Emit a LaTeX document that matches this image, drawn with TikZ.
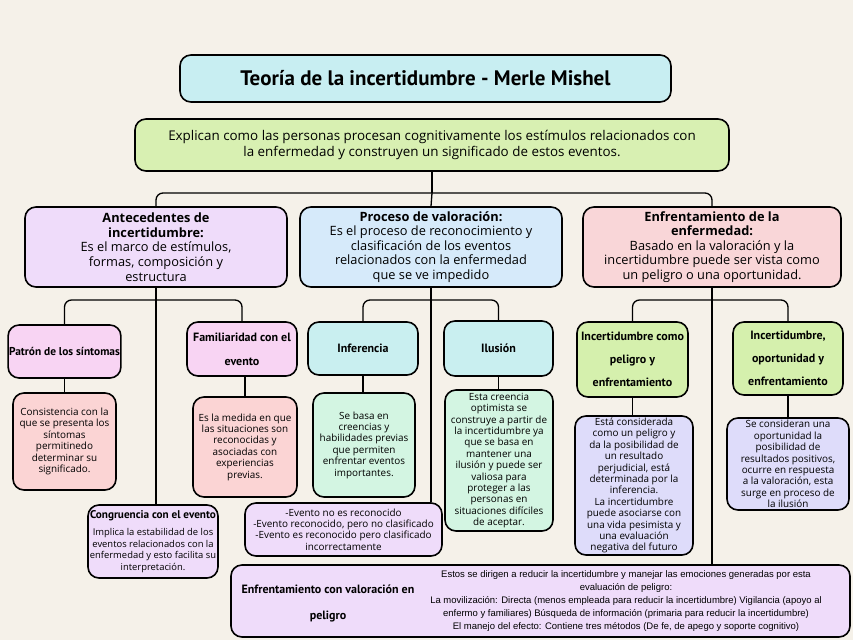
\documentclass[tikz,border=0pt]{standalone}
\usepackage{fontspec}
\setmainfont{Open Sans}
\newfontfamily\hand{PT Sans}
\newfontfamily\narrowf{Liberation Sans}
\definecolor{bgc}{HTML}{F5F1E9}
\definecolor{cyanT}{HTML}{C8EEF2}
\definecolor{greenA}{HTML}{D8F0B2}
\definecolor{lavA}{HTML}{EFDCFA}
\definecolor{blueA}{HTML}{D6EAFA}
\definecolor{pinkA}{HTML}{F9D6D8}
\definecolor{pinklav}{HTML}{F8D4F3}
\definecolor{pinkB}{HTML}{FBD4D4}
\definecolor{cyanB}{HTML}{C9EFF0}
\definecolor{mint}{HTML}{D3F5E2}
\definecolor{greenB}{HTML}{D5F0AD}
\definecolor{lavblue}{HTML}{DEDCFA}
\tikzset{
  box/.style={draw=black, line width=1.6pt, rounded corners=11pt, align=center, inner sep=1pt},
  conn/.style={draw=black, line width=1.3pt, rounded corners=7pt},
  midtxt/.style={font=\fontsize{12.8}{14.6}\selectfont},
  smalltxt/.style={font=\fontsize{9.9}{11.4}\selectfont},
  handtxt/.style={font=\hand\bfseries\fontsize{12}{13}\selectfont},
}
\begin{document}
\begin{tikzpicture}[x=1pt,y=-1pt]
\useasboundingbox (0,0) rectangle (853,640);
\fill[bgc] (0,0) rectangle (853,640);

% level 0/1
\node[box, fill=cyanT, minimum width=491, minimum height=47, font=\hand\bfseries\fontsize{21}{24}\selectfont] (title) at (425.5,78.5) {Teoría de la incertidumbre - Merle Mishel};
\node[box, fill=greenA, minimum width=594, minimum height=52, font=\fontsize{13.4}{16}\selectfont] (main) at (432,145) {Explican como las personas procesan cognitivamente los estímulos relacionados con\\la enfermedad y construyen un significado de estos eventos.};

% level 2
\node[box, fill=lavA, minimum width=262, minimum height=80, midtxt] (ante) at (156,247) {\textbf{Antecedentes de}\\\textbf{incertidumbre:}\\Es el marco de estímulos,\\formas, composición y\\estructura};
\node[box, fill=blueA, minimum width=262, minimum height=80, midtxt] (proc) at (431,247) {\textbf{Proceso de valoración:}\\Es el proceso de reconocimiento y\\clasificación de los eventos\\relacionados con la enfermedad\\que se ve impedido};
\node[box, fill=pinkA, minimum width=258, minimum height=80, midtxt] (enf) at (712,247) {\textbf{Enfrentamiento de la}\\\textbf{enfermedad:}\\Basado en la valoración y la\\incertidumbre puede ser vista como\\un peligro o una oportunidad.};

% level 3 left
\node[box, fill=pinklav, minimum width=111, minimum height=53, font=\hand\bfseries\fontsize{11.4}{13}\selectfont] (patron) at (64.5,351.5) {Patrón de los síntomas};
\node[box, fill=pinkB, minimum width=103, minimum height=97, smalltxt] (consist) at (64.5,441.5) {Consistencia con la\\que se presenta los\\síntomas\\permitinedo\\determinar su\\significado.};
\node[box, fill=pinklav, minimum width=110, minimum height=54, font=\hand\bfseries\fontsize{12}{24}\selectfont] (famil) at (242,349) {Familiaridad con el\\evento};
\node[box, fill=pinkB, minimum width=104, minimum height=100, smalltxt] (medida) at (245,447) {Es la medida en que\\las situaciones son\\reconocidas y\\asociadas con\\experiencias\\previas.};
\node[box, fill=lavA, minimum width=130, minimum height=73, font=\fontsize{9.4}{11.4}\selectfont] (congr) at (153,541.5) {{\hand\bfseries\fontsize{11.2}{13}\selectfont Congruencia con el evento}\\[6pt]Implica la estabilidad de los\\eventos relacionados con la\\enfermedad y esto facilita su\\interpretación.};

% level 3 middle
\node[box, fill=cyanB, minimum width=110, minimum height=53, handtxt] (infer) at (363,348.5) {Inferencia};
\node[box, fill=mint, minimum width=102, minimum height=104, smalltxt] (sebasa) at (364,445) {Se basa en\\creencias y\\habilidades previas\\que permiten\\enfrentar eventos\\importantes.};
\node[box, fill=cyanB, minimum width=109, minimum height=55, handtxt] (ilus) at (498.5,348.5) {Ilusión};
\node[box, fill=mint, minimum width=108, minimum height=141, smalltxt] (creencia) at (499,460.5) {Esta creencia\\optimista se\\construye a partir de\\la incertidumbre ya\\que se basa en\\mantener una\\ilusión y puede ser\\valiosa para\\proteger a las\\personas en\\situaciones difíciles\\de aceptar.};
\node[box, fill=lavA, minimum width=197, minimum height=53, smalltxt] (evento) at (343.5,529.5) {-Evento no es reconocido\\-Evento reconocido, pero no clasificado\\-Evento es reconocido pero clasificado\\incorrectamente};

% level 3 right
\node[box, fill=greenB, minimum width=111, minimum height=75, font=\hand\bfseries\fontsize{12}{23}\selectfont] (peligro) at (632.5,359.5) {Incertidumbre como\\peligro y\\enfrentamiento};
\node[box, fill=lavblue, minimum width=118, minimum height=139, smalltxt] (consid) at (634,485.5) {Está considerada\\como un peligro y\\da la posibilidad de\\un resultado\\perjudicial, está\\determinada por la\\inferencia.\\La incertidumbre\\puede asociarse con\\una vida pesimista y\\una evaluación\\negativa del futuro};
\node[box, fill=greenB, minimum width=110, minimum height=73, font=\hand\bfseries\fontsize{12}{23}\selectfont] (oport) at (788,358.5) {Incertidumbre,\\oportunidad y\\enfrentamiento};
\node[box, fill=lavblue, minimum width=122, minimum height=92, smalltxt] (seconsid) at (788,464) {Se consideran una\\oportunidad la\\posibilidad de\\resultados positivos,\\ocurre en respuesta\\a la valoración, esta\\surge en proceso de\\la ilusión};

% bottom
\node[box, fill=lavA, minimum width=619, minimum height=72] (bottom) at (540.5,601) {};
\node[font=\hand\bfseries\fontsize{12}{26}\selectfont, align=center] (btitle) at (328,603) {Enfrentamiento con valoración en\\peligro};
\node[font=\narrowf\fontsize{9.5}{13}\selectfont, align=center] (btext) at (626,601) {Estos se dirigen a reducir la incertidumbre y manejar las emociones generadas por esta\\evaluación de peligro:\\La movilización: Directa (menos empleada para reducir la incertidumbre) Vigilancia (apoyo al\\enfermo y familiares) Búsqueda de información (primaria para reducir la incertidumbre)\\El manejo del efecto: Contiene tres métodos (De fe, de apego y soporte cognitivo)};

% connectors
\coordinate (j0) at (432,193);
\draw[conn] (main.south) -- (j0);
\draw[conn] (j0) -| (ante.north);
\draw[conn] (j0) -| (enf.north);
\draw[conn] (j0) -- (proc.north);

\coordinate (j1) at (156,300);
\draw[conn] (ante.south) -- (ante.south |- congr.north);
\draw[conn] (j1) -| (patron.north);
\draw[conn] (j1) -| (famil.north);
\draw[conn] (patron.south) -- (consist.north);
\draw[conn] (famil.south -| medida.north) -- (medida.north);

\coordinate (j2) at (431,300);
\draw[conn] (proc.south) -- (proc.south |- evento.north);
\draw[conn] (j2) -| (infer.north);
\draw[conn] (j2) -| (ilus.north);
\draw[conn] (infer.south) -- (infer.south |- sebasa.north);
\draw[conn] (ilus.south) -- (ilus.south |- creencia.north);

\coordinate (j3) at (712,300);
\draw[conn] (enf.south) -- (enf.south |- bottom.north);
\draw[conn] (j3) -| (peligro.north);
\draw[conn] (j3) -| (oport.north);
\draw[conn] (peligro.south) -- (peligro.south |- consid.north);
\draw[conn] (oport.south) -- (oport.south |- seconsid.north);
\end{tikzpicture}
\end{document}
